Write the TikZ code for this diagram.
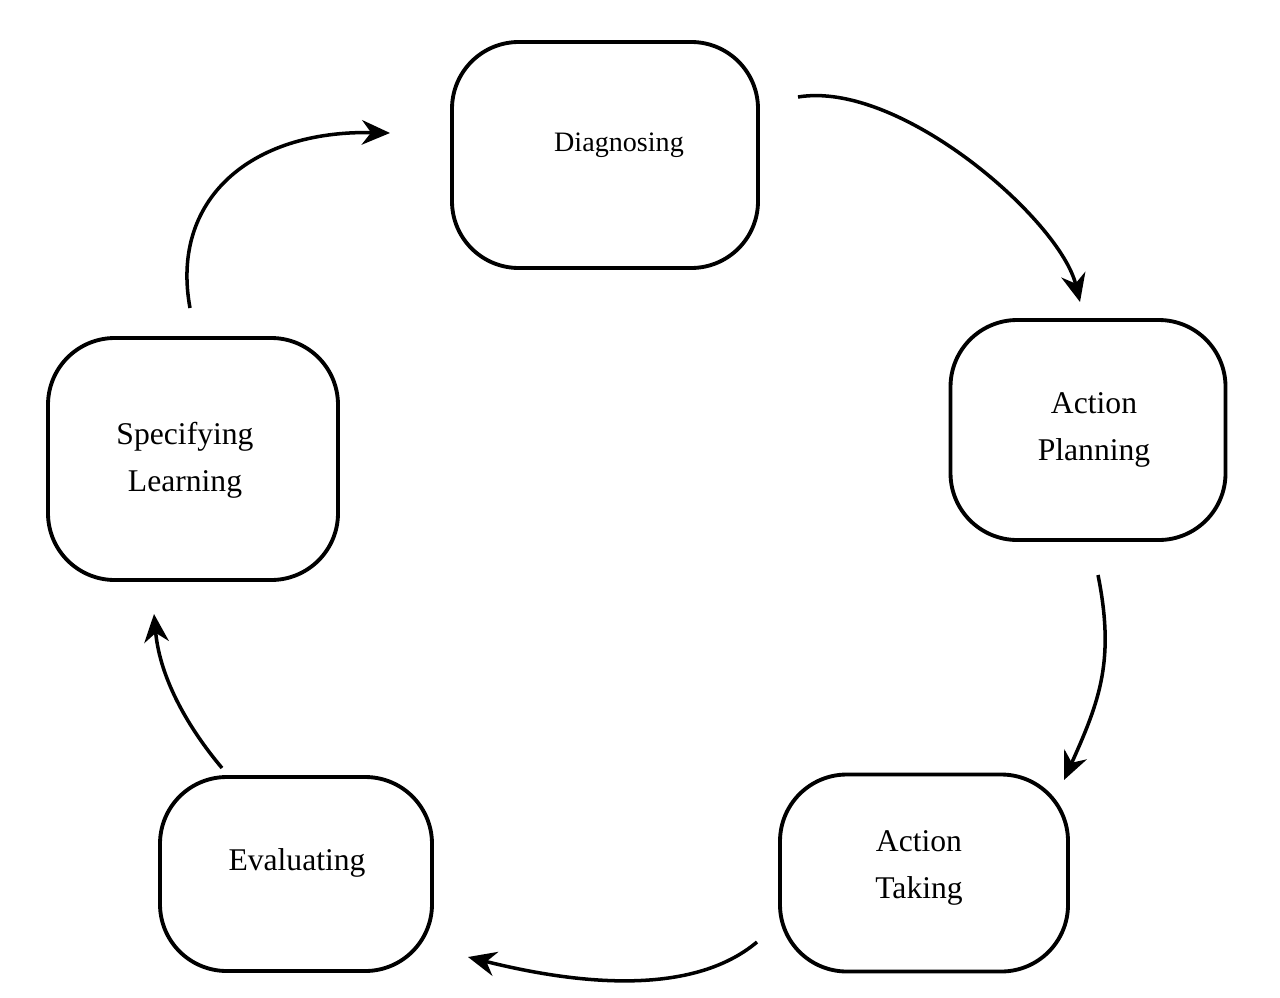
\documentclass[tikz,border=0pt]{standalone}
\usepackage{fontspec}
\setmainfont{Liberation Serif}
\usetikzlibrary{arrows.meta}
\begin{document}
\begin{tikzpicture}[x=0.02cm,y=-0.02cm,
  blob/.style={draw,line width=2.2pt,rounded corners=38pt,inner sep=0pt},
  lbl/.style={align=center,inner sep=0pt,font=\fontsize{18}{27}\selectfont},
  flow/.style={line width=2pt,-{Stealth[length=16pt,width=14pt]}}]
\useasboundingbox (0,0) rectangle (1280,997);
\node[blob,minimum width=306*0.02cm,minimum height=226*0.02cm] (diag) at (605,155) {};
\node[lbl,font=\fontsize{16}{20}\selectfont] (diagt) at (619,145) {Diagnosing};
\node[blob,minimum width=275*0.02cm,minimum height=220*0.02cm] (plan) at (1088,430) {};
\node[lbl] (plant) at (1094,430) {Action\\Planning};
\node[blob,minimum width=288*0.02cm,minimum height=197*0.02cm] (take) at (924,873) {};
\node[lbl] (taket) at (919,868) {Action\\Taking};
\node[blob,minimum width=272*0.02cm,minimum height=194*0.02cm] (eval) at (296,874) {};
\node[lbl] (evalt) at (297,863) {Evaluating};
\node[blob,minimum width=290*0.02cm,minimum height=242*0.02cm] (spec) at (193,459) {};
\node[lbl] (spect) at (185,460) {Specifying\\Learning};
\coordinate (a1) at (798,97); \coordinate (a2) at (1080,302);
\coordinate (b1) at (1098,575); \coordinate (b2) at (1064,780);
\coordinate (c1) at (757,942); \coordinate (c2) at (468,957);
\coordinate (d1) at (222,768); \coordinate (d2) at (154,614);
\coordinate (e1) at (190,308); \coordinate (e2) at (390,133);
\draw[flow] (a1) .. controls (900,80) and (1060,220) .. (a2);
\draw[flow] (b1) .. controls (1115,660) and (1100,700) .. (b2);
\draw[flow] (c1) .. controls (700,990) and (600,990) .. (c2);
\draw[flow] (d1) .. controls (190,730) and (160,680) .. (d2);
\draw[flow] (e1) .. controls (170,200) and (250,130) .. (e2);
\end{tikzpicture}
\end{document}
